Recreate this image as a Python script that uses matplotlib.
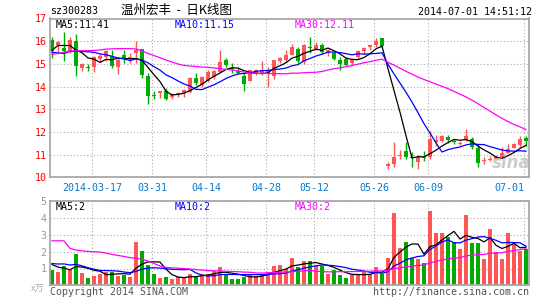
import matplotlib.pyplot as plt
import numpy as np
import pandas as pd

# trading days shown on the chart
dates = (["2014-03-%02d" % d for d in [6, 7, 10, 11, 12, 13, 14, 17, 18, 19, 20, 21, 24, 25, 26, 27, 28, 31]]
         + ["2014-04-%02d" % d for d in [1, 2, 3, 4, 8, 9, 10, 11, 14, 15, 16, 17, 18, 21, 22, 23, 24, 25, 28, 29, 30]]
         + ["2014-05-%02d" % d for d in [5, 6, 7, 8, 9, 12, 13, 14, 15, 16, 19, 20, 21, 22, 23, 26, 27, 28, 29, 30]]
         + ["2014-06-%02d" % d for d in [3, 4, 5, 6, 9, 10, 11, 12, 13, 16, 17, 18, 19, 20, 23, 24, 25, 26, 27, 30]]
         + ["2014-07-01"])

open_ = [16.07, 15.83, 15.72, 15.55, 16.0, 14.8, 14.84, 14.85, 15.2, 15.3,
         15.35, 14.85, 15.37, 15.2, 15.5, 15.65, 14.45, 13.62, 13.73, 13.82,
         13.52, 13.63, 13.7, 13.75, 14.37, 14.05, 14.26, 14.41, 14.63, 15.18,
         14.8, 14.68, 14.48, 14.26, 14.59, 14.56, 14.58, 14.48, 15.12, 15.18,
         15.41, 15.66, 15.07, 15.72, 15.66, 15.85, 15.5, 15.47, 15.18, 15.22,
         15.03, 15.29, 15.55, 15.74, 15.81, 16.12, 10.52, 10.6, 10.92, 11.18,
         10.9, 10.68, 10.88, 10.88, 11.55, 11.62, 11.77, 11.6, 11.48, 11.65,
         11.7, 11.3, 10.7, 10.78, 10.8, 10.9, 11.07, 11.28, 11.42, 11.75]
high = [16.2, 16.0, 16.42, 16.2, 16.3, 15.03, 15.0, 15.35, 15.42, 15.63,
        15.6, 15.27, 15.6, 15.47, 16.03, 15.67, 14.6, 13.8, 13.82, 13.93,
        13.7, 13.75, 13.9, 14.4, 14.6, 14.45, 14.72, 14.75, 15.59, 15.25,
        15.05, 14.85, 14.63, 14.75, 14.78, 15.12, 14.85, 15.17, 15.3, 15.59,
        15.88, 15.75, 15.88, 16.18, 15.95, 15.9, 15.65, 15.55, 15.3, 15.3,
        15.28, 15.62, 15.76, 15.85, 16.15, 16.15, 10.68, 11.55, 11.2, 11.55,
        11.1, 11.0, 11.15, 12.05, 11.88, 11.87, 11.85, 11.7, 11.62, 12.13,
        11.78, 11.45, 10.88, 10.95, 11.0, 11.32, 11.47, 11.5, 11.84, 11.8]
low = [15.28, 15.42, 15.12, 15.5, 14.45, 14.67, 14.7, 14.62, 15.1, 15.12,
       14.82, 14.55, 15.05, 15.02, 15.05, 14.38, 13.22, 13.45, 13.5, 13.42,
       13.45, 13.52, 13.55, 13.7, 14.05, 14.0, 14.2, 14.35, 14.6, 14.85,
       14.6, 14.56, 13.8, 14.24, 14.5, 14.5, 14.0, 14.35, 15.05, 15.08,
       15.38, 15.05, 14.98, 15.5, 15.6, 15.45, 15.35, 15.18, 14.71, 14.9,
       14.95, 15.22, 15.45, 15.6, 15.76, 15.75, 10.38, 10.45, 10.8, 10.82,
       10.45, 10.37, 10.7, 10.82, 11.37, 11.55, 11.5, 11.45, 11.42, 11.62,
       11.25, 10.47, 10.6, 10.7, 10.75, 10.85, 11.05, 11.28, 11.32, 11.4]
close = [15.56, 15.97, 15.55, 16.05, 14.9, 14.98, 14.82, 15.3, 15.33, 15.55,
         14.9, 15.17, 15.22, 15.3, 15.6, 14.5, 13.6, 13.6, 13.8, 13.47,
         13.68, 13.72, 13.87, 14.37, 14.15, 14.4, 14.66, 14.68, 15.1, 14.93,
         14.78, 14.58, 14.12, 14.71, 14.73, 14.73, 14.72, 15.15, 15.26, 15.38,
         15.76, 15.12, 15.81, 15.7, 15.85, 15.51, 15.62, 15.22, 15.0, 14.93,
         15.22, 15.56, 15.7, 15.81, 16.03, 15.8, 10.6, 10.9, 11.0, 10.88,
         10.87, 10.9, 10.85, 11.7, 11.65, 11.8, 11.65, 11.55, 11.52, 11.8,
         11.33, 10.65, 10.75, 10.82, 10.9, 11.05, 11.25, 11.45, 11.7, 11.6]
volume = [0.9, 0.78, 1.16, 0.9, 1.84, 0.73, 0.43, 0.55, 0.65, 0.82,
          0.8, 0.57, 0.63, 0.49, 2.6, 2.02, 1.2, 0.67, 0.43, 0.49,
          0.4, 0.47, 0.5, 0.67, 0.53, 0.69, 0.65, 0.88, 1.08, 0.59,
          0.39, 0.39, 0.49, 0.67, 0.53, 0.67, 0.82, 1.14, 1.2, 1.0,
          1.6, 1.1, 1.47, 1.42, 1.17, 1.17, 0.68, 0.9, 0.59, 0.43,
          0.64, 0.64, 0.88, 0.64, 1.06, 0.7, 1.6, 4.31, 2.2, 2.55,
          1.65, 1.55, 1.31, 4.43, 3.1, 3.1, 2.86, 2.57, 2.14, 4.2,
          2.51, 2.51, 1.55, 3.37, 1.98, 1.55, 3.14, 2.47, 2.04, 2.14]

# earlier sessions, only feed the moving averages
prior_close = [14.77, 14.05, 14.25, 14.9, 14.68, 14.82, 15.0, 14.73, 14.35, 14.6,
               14.87, 15.22, 15.3, 16.0, 17.0, 17.1, 16.4, 16.6, 16.5, 16.35,
               16.3, 15.8, 15.1, 14.85, 15.1, 14.92, 15.55, 16.05, 15.92]
prior_volume = [0.78, 1.16, 14.4, 4.84, 2.23, 1.33, 1.15, 1.25, 2.62, 3.2,
                2.37, 2.43, 2.59, 3.5, 4.12, 4.2, 5.17, 4.93, 2.89, 1.3,
                1.07, 1.1, 1.57, 1.43, 1.59, 1.55, 1.48, 1.38, 0.89]

tick_dates = ["2014-03-17", "2014-03-31", "2014-04-14", "2014-04-28",
              "2014-05-12", "2014-05-26", "2014-06-09", "2014-07-01"]
ma_periods = [5, 10, 30]
ma_colors = ["black", "#0000ff", "#ff00ff"]

RED = "#ff5555"
GREEN = "#00aa00"
GRID = "#aaaaaa"
FRAME = "#a8a8a8"
MONO = "DejaVu Sans Mono"
FS = 7.2
W, H = 545, 300

n = len(close)
x = np.arange(n)
o = np.array(open_)
c = np.array(close)
colors = [RED if c[i] >= o[i] else GREEN for i in range(n)]

full_close = pd.Series(prior_close + close)
full_vol = pd.Series(prior_volume + volume)
price_ma = [full_close.rolling(p).mean().to_numpy()[-n:] for p in ma_periods]
vol_ma = [full_vol.rolling(p).mean().to_numpy()[-n:] for p in ma_periods]

tick_pos = [dates.index(d) - 0.3 for d in tick_dates]
tick_lab = [tick_dates[0]] + [d[5:] for d in tick_dates[1:]]


def rect(x0, y0, x1, y1):
    return [x0 / W, 1 - y1 / H, (x1 - x0) / W, (y1 - y0) / H]


fig = plt.figure(figsize=(W / 100, H / 100), dpi=100)
ax = fig.add_axes(rect(50, 18.5, 529, 177.3))
axv = fig.add_axes(rect(50, 201.3, 529, 285.3))

for a in (ax, axv):
    a.set_xlim(-0.33, 79.5)
    for s in a.spines.values():
        s.set_color(FRAME)
        s.set_linewidth(1.3)
    a.set_xticks(tick_pos)
    a.grid(True, color=GRID, linestyle=(0, (1, 2)), linewidth=0.8)
    a.set_axisbelow(True)
    a.tick_params(length=0)

# price panel
ax.vlines(x, low, high, colors=colors, linewidth=1)
body = np.maximum(np.abs(c - o), 0.025)
ax.bar(x, body, bottom=np.minimum(o, c), width=0.78, color=colors, linewidth=0)
for m, col in zip(price_ma, ma_colors):
    ax.plot(x, m, color=col, linewidth=0.9)
ax.set_ylim(10, 17)
ax.set_yticks(range(10, 18))
ax.set_yticklabels([str(v) for v in range(10, 18)], color="#ff0000",
                   fontsize=FS, family=MONO)
ax.tick_params(axis="y", pad=2.5)
ax.set_xticklabels(tick_lab, color="#0a78c8", fontsize=FS, family=MONO)
ax.tick_params(axis="x", pad=4)
ax.get_xticklabels()[-1].set_horizontalalignment("right")

# volume panel
axv.bar(x, volume, width=0.78, color=colors, linewidth=0)
for m, col in zip(vol_ma, ma_colors):
    axv.plot(x, m, color=col, linewidth=0.9)
axv.set_ylim(0, 5)
axv.set_yticks(range(1, 6))
axv.set_yticklabels([str(v) for v in range(1, 6)], color="#999999",
                    fontsize=FS, family=MONO)
axv.tick_params(axis="y", pad=2.5)
axv.set_xticklabels([])

# legends
legend_x = [56, 175, 295]
for px, p, m, col in zip(legend_x, ma_periods, price_ma, ma_colors):
    fig.text(px / W, 1 - 25 / H, "MA%d:%.2f" % (p, m[-1]), color=col,
             fontsize=FS, family=MONO, va="center")
for px, p, m, col in zip(legend_x, ma_periods, vol_ma, ma_colors):
    fig.text(px / W, 1 - 207.5 / H, "MA%d:%.0f" % (p, m[-1]), color=col,
             fontsize=FS, family=MONO, va="center")

# header and footer
fig.text(50 / W, 1 - 11 / H, "sz300283", fontsize=FS, family=MONO, va="center")
fig.text(121 / W, 1 - 10 / H, "温州宏丰  -  日K线图", fontsize=9,
         family=["Noto Sans CJK SC", "DejaVu Sans"], va="center")
fig.text(532 / W, 1 - 12 / H, "2014-07-01 14:51:12", fontsize=FS, family=MONO,
         va="center", ha="right")
fig.text(50 / W, 1 - 292 / H, "Copyright 2014 SINA.COM", fontsize=FS,
         family=MONO, color="#555555", va="center")
fig.text(529 / W, 1 - 292 / H, "http://finance.sina.com.cn", fontsize=FS,
         family=MONO, color="#555555", va="center", ha="right")
fig.text(38 / W, 1 - 289 / H, "x万", fontsize=6.5, color="#aaaaaa",
         family=["Noto Sans CJK SC", "DejaVu Sans"], style="italic",
         va="center", ha="center")
fig.text(511 / W, 1 - 163 / H, "sina", fontsize=12, color="#c0c0c0",
         style="italic", weight="bold", va="center", ha="center", alpha=0.8)

fig.savefig("out.png", dpi=100)
